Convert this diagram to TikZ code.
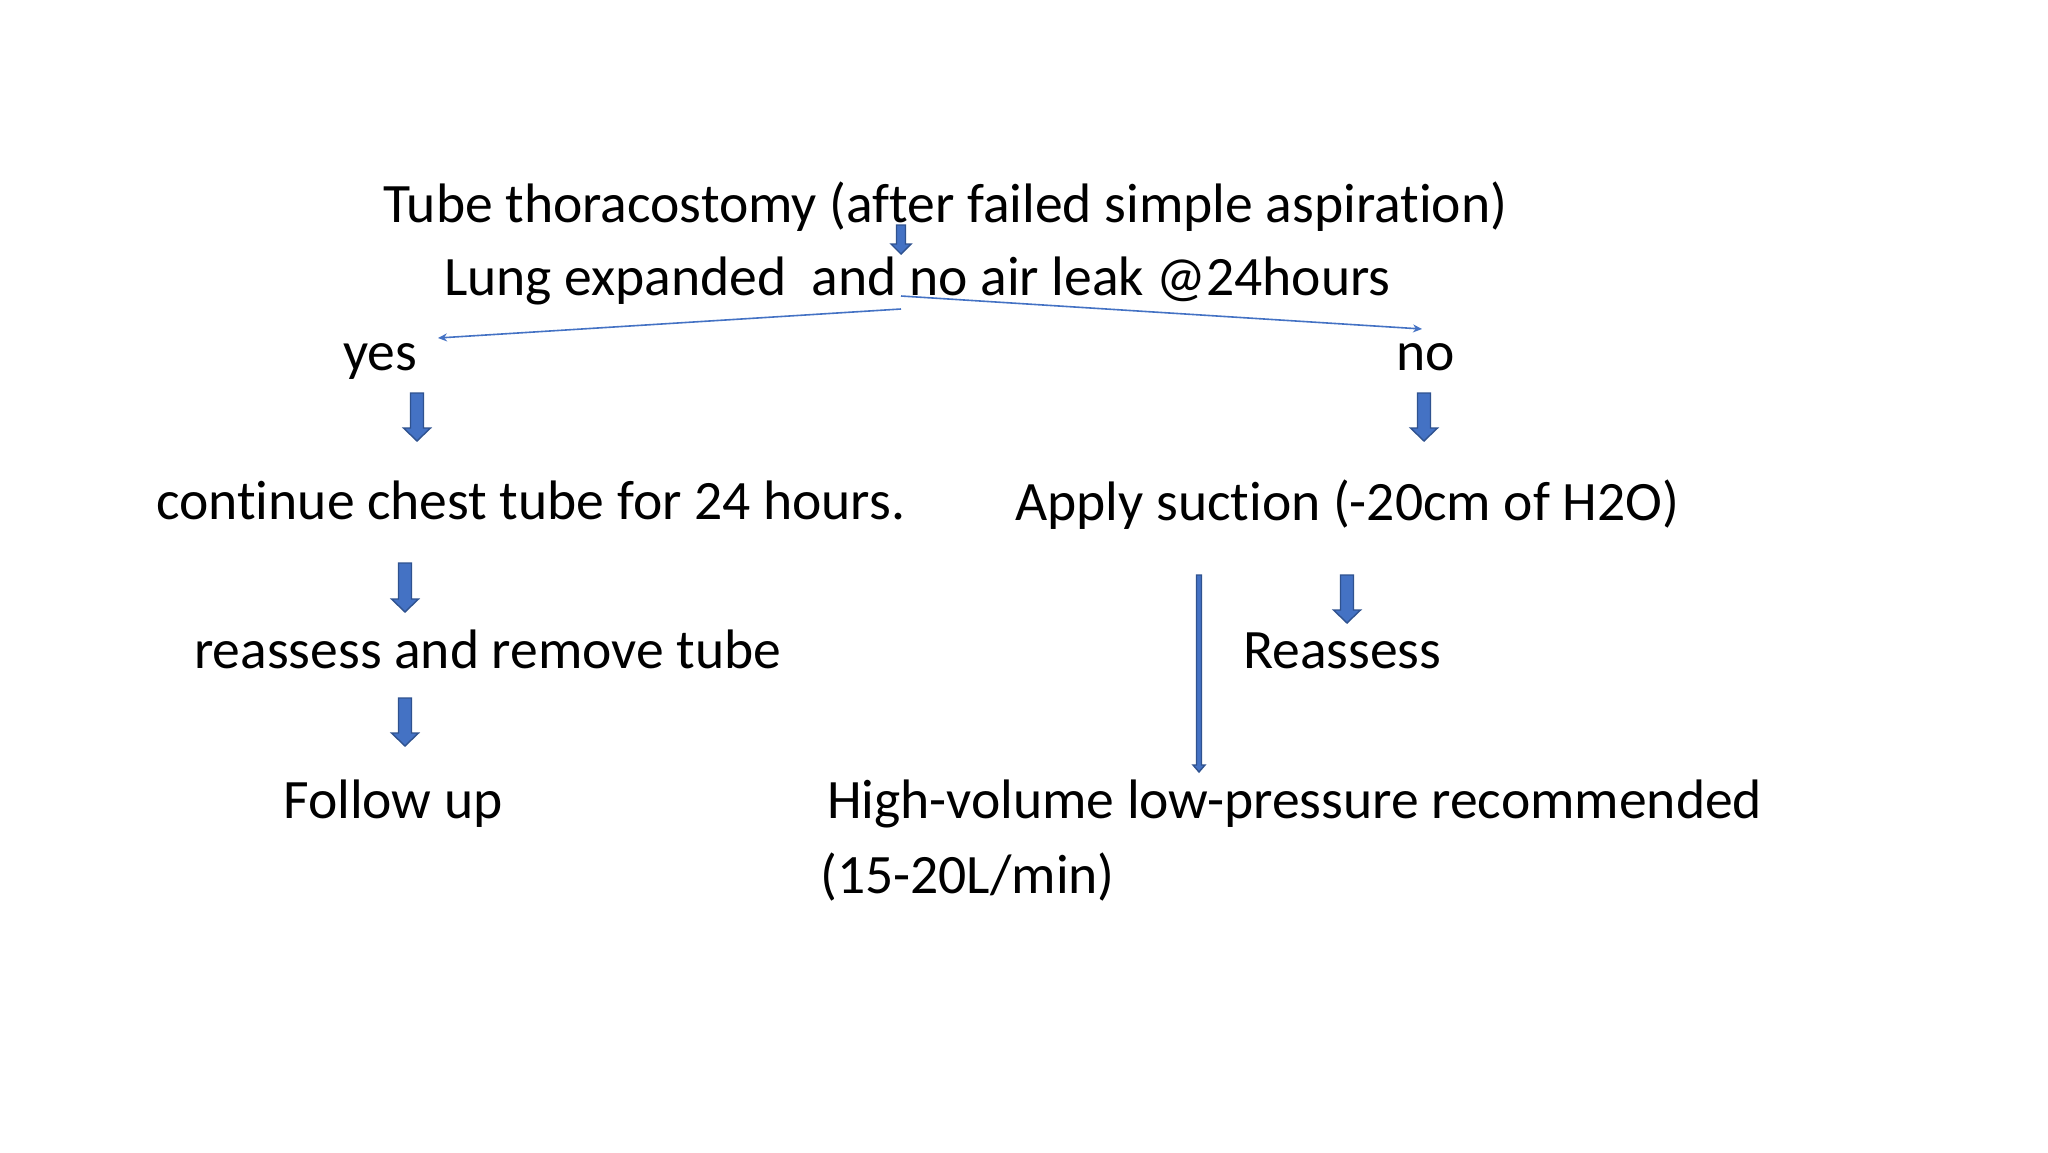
\documentclass[tikz,border=0pt]{standalone}
\usepackage{fontspec}
\setmainfont{Carlito}[Ligatures=NoCommon]
\usetikzlibrary{arrows.meta}
\definecolor{accblue}{HTML}{4472C4}
\definecolor{accdark}{HTML}{2F528F}
\tikzset{
  txt/.style={anchor=base west, inner sep=0pt, text=black, font=\fontsize{55.6}{66}\selectfont},
  thinarrow/.style={draw=accblue, line width=1.6pt, -{Stealth[length=9pt,width=8pt]}},
  blockarrow/.style={fill=accblue, draw=accdark, line width=1.4pt, line join=miter}
}
\newcommand\barrow[6]{%
  \filldraw[blockarrow] (#1-#4,#2) -- (#1+#4,#2) -- (#1+#4,#3-#6) -- (#1+#5,#3-#6) -- (#1,#3) -- (#1-#5,#3-#6) -- (#1-#4,#3-#6) -- cycle;}
\begin{document}
\begin{tikzpicture}[x=1pt,y=-1pt]
\useasboundingbox[fill=white] (0,0) rectangle (2048,1152);

\node[txt] (title) at (383,222) {Tube thoracostomy (after failed simple aspiration)};
\node[txt] (lung) at (444,295) {Lung expanded~~and no air leak @24hours};
\node[txt] (yes) at (343,370) {yes};
\node[txt] (no) at (1396,370) {no};
\node[txt] (cont) at (156,519) {continue chest tube for 24 hours.};
\node[txt] (apply) at (1015,520) {Apply suction (-20cm of H2O)};
\node[txt] (remove) at (194,668) {reassess and remove tube};
\node[txt] (reass) at (1243,668) {Reassess};
\node[txt] (follow) at (283,818) {Follow up};
\node[txt] (high) at (827,818) {High-volume low-pressure recommended};
\node[txt] (flow) at (820,893) {(15-20L/min)};

% split connectors
\coordinate (splitno) at (901,296);
\coordinate (splityes) at (901,309);
\coordinate (yesend) at (438,338);
\coordinate (noend) at (1422,329);
\draw[thinarrow] (splityes) -- (yesend);
\draw[thinarrow] (splitno) -- (noend);

% block arrows
\barrow{901}{225}{254}{4.5}{10}{10}
\barrow{417}{393}{441}{6.5}{13.5}{13}
\barrow{1424}{393}{441}{6.5}{13.5}{13}
\barrow{405}{563}{612}{6.5}{13.5}{13}
\barrow{405}{698}{746}{6.5}{13.5}{13}
\barrow{1347}{575}{623}{6.5}{13.5}{13}
\barrow{1199}{575}{772}{2.5}{6}{7}
\end{tikzpicture}
\end{document}
